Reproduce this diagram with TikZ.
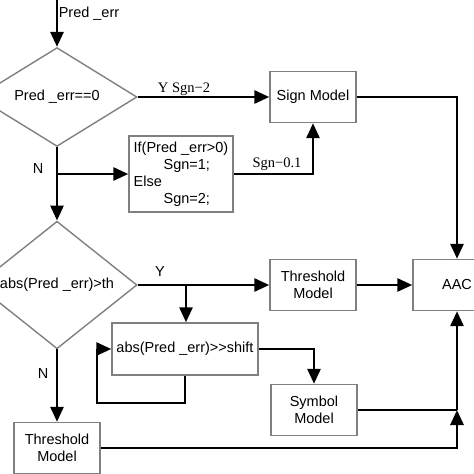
\documentclass[tikz,border=0pt]{standalone}
\usepackage{fontspec}
\setmainfont{Liberation Sans}
\newfontfamily\timesfont{Liberation Serif}
\usetikzlibrary{shapes.geometric,arrows.meta}

\begin{document}
\begin{tikzpicture}[x=1pt,y=-1pt,
  font=\fontsize{14.5}{17}\selectfont,
  box/.style={draw=gray,line width=1.4pt,minimum width=86pt,minimum height=51pt,inner sep=0pt,align=center},
  cond/.style={diamond,draw=gray,line width=1.4pt,minimum width=160pt,minimum height=98pt,inner sep=0pt},
  flow/.style={line width=2.8pt,-{Triangle[length=15pt,width=13pt]}},
  wire/.style={line width=2.8pt}]
			\useasboundingbox (0,0) rectangle (474,474);
			\clip (0,0) rectangle (474,474);
			
			\node[cond] (d1) at (57,97) {Pred \_err==0};
			\node[cond] (d2) at (57,285) {abs(Pred \_err)>th};
			\node[box] (sign) at (313,97) {Sign Model};
			\node[box,minimum width=104pt,minimum height=76pt,align=left] (ifb) at (181,174)
				{If(Pred \_err>0)\\\hspace*{30pt}Sgn=1;\\Else\\\hspace*{30pt}Sgn=2;};
			\node[box] (thr1) at (313,285) {Threshold\\Model};
			\node[box,minimum width=88pt] (aac) at (457,285) {AAC};
			\node[box,minimum width=146pt,minimum height=52pt] (absb) at (185,349) {abs(Pred \_err)>{}>shift};
			\node[box] (sym) at (314,410) {Symbol\\Model};
			\node[box] (thr2) at (57,448) {Threshold\\Model};
			
			\coordinate (in) at (57,0);
			\coordinate (nb) at (57,174);
			\coordinate (yb) at (186,285);
			\coordinate (lp) at (97,403);
			\coordinate (jn) at (457,410);
			
			\node (tin) at (89,14) {Pred \_err};
			\node (ly1) at (184,89) {\timesfont Y Sgn−2};
			\node (ln1) at (38,169) {N};
			\node (ls) at (277,164) {\timesfont Sgn−0.1};
			\node (ly2) at (160,272) {Y};
			\node (ln2) at (43,374) {N};
			
			\draw[flow] (in) -- (d1);
			\draw[flow] (d1) -- (sign);
			\draw[flow] (d1) -- (d2);
			\draw[flow] (nb) -- (ifb);
			\draw[flow] (ifb.east) -| (sign.south);
			\draw[flow] (sign.east) -| (aac.north);
			\draw[flow] (d2) -- (thr1);
			\draw[flow] (yb) -- (yb |- absb.north);
			\draw[flow] (thr1) -- (aac);
			\draw[flow] (absb.south) |- (lp) |- (absb.west);
			\draw[flow] (absb.east) -| (sym.north);
			\draw[flow] (d2) -- (thr2);
			\draw[wire] (sym) -- (jn);
			\draw[flow] (thr2) -| (jn);
			\draw[flow] (jn) -- (aac);
		\end{tikzpicture}
\end{document}
